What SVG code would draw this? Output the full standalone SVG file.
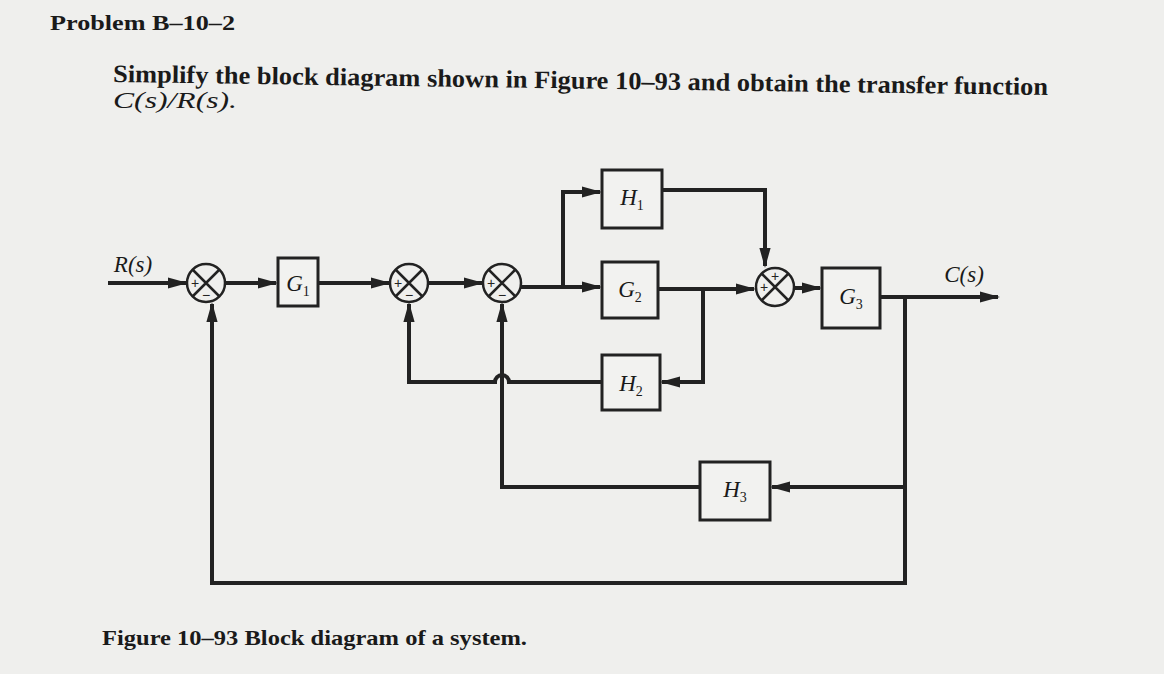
<svg xmlns="http://www.w3.org/2000/svg" width="1164" height="674" viewBox="0 0 1164 674">
<style>
.t{font-family:"Liberation Serif",serif;fill:#1a1a1a}
.b{fill:#f2f2f0;stroke:#222;stroke-width:3}
.s{fill:none;stroke:#222;stroke-width:2.5}
.w{fill:none;stroke:#222;stroke-width:4}
.l{font-family:"Liberation Serif",serif;font-style:italic;font-size:23px;fill:#1a1a1a;text-anchor:middle}
.n{font-style:normal;font-size:14px}
.p{font-family:"Liberation Sans",sans-serif;font-size:14px;fill:#222;text-anchor:middle}
</style>
<defs><marker id="a" markerWidth="5" markerHeight="4" refX="4.5" refY="2" orient="auto" markerUnits="strokeWidth"><path d="M0,0.6 L5,2 L0,3.4 Z" fill="#222"/></marker></defs>
<rect width="1164" height="674" fill="#efefed"/>
<text class="t" x="50" y="30" font-size="22" font-weight="bold" textLength="185" lengthAdjust="spacingAndGlyphs">Problem B–10–2</text>
<text class="t" x="113" y="82" font-size="25" font-weight="bold" textLength="935" lengthAdjust="spacingAndGlyphs" transform="rotate(0.8 113 82)">Simplify the block diagram shown in Figure 10–93 and obtain the transfer function</text>
<text class="t" x="113" y="108" font-size="24" font-style="italic" textLength="124" lengthAdjust="spacingAndGlyphs">C(s)/R(s).</text>
<text class="t" x="102" y="645" font-size="21" font-weight="bold" textLength="425" lengthAdjust="spacingAndGlyphs">Figure 10–93   Block diagram of a system.</text>
<text class="l" x="133" y="272">R(s)</text>
<text class="l" x="964" y="282">C(s)</text>
<g id="connectors">
<path class="w" d="M108,283 H186" marker-end="url(#a)"/>
<path class="w" d="M225,283 H276" marker-end="url(#a)"/>
<path class="w" d="M318,283 H389" marker-end="url(#a)"/>
<path class="w" d="M428,283 H482" marker-end="url(#a)"/>
<path class="w" d="M521,287 H600" marker-end="url(#a)"/>
<path class="w" d="M563,287 V192 H600" marker-end="url(#a)"/>
<path class="w" d="M662,190 H765 V266" marker-end="url(#a)"/>
<path class="w" d="M658,289 H754" marker-end="url(#a)"/>
<path class="w" d="M703,289 V382 H662" marker-end="url(#a)"/>
<path class="w" d="M794,288 H820" marker-end="url(#a)"/>
<path class="w" d="M880,297 H998" marker-end="url(#a)"/>
<path class="w" d="M905,297 V583 H212 V304" marker-end="url(#a)"/>
<path class="w" d="M905,487 H772" marker-end="url(#a)"/>
<path class="w" d="M700,487 H502 V304" marker-end="url(#a)"/>
<path class="w" d="M602,382 H509 A7,7 0 0 0 495,382 H409 V304" marker-end="url(#a)"/>
</g>
<g id="sum1"><circle class="s" cx="206" cy="283" r="19" fill="#efefed"/><path class="s" d="M192.5,269.5 L219.5,296.5 M219.5,269.5 L192.5,296.5"/><text class="p" x="195" y="288">+</text><text class="p" x="206" y="300">−</text></g>
<g id="sum2"><circle class="s" cx="409" cy="283" r="19" fill="#efefed"/><path class="s" d="M395.5,269.5 L422.5,296.5 M422.5,269.5 L395.5,296.5"/><text class="p" x="398" y="288">+</text><text class="p" x="409" y="300">−</text></g>
<g id="sum3"><circle class="s" cx="502" cy="283" r="19" fill="#efefed"/><path class="s" d="M488.5,269.5 L515.5,296.5 M515.5,269.5 L488.5,296.5"/><text class="p" x="491" y="288">+</text><text class="p" x="502" y="300">−</text></g>
<g id="sum4"><circle class="s" cx="775" cy="287" r="19" fill="#efefed"/><path class="s" d="M761.5,273.5 L788.5,300.5 M788.5,273.5 L761.5,300.5"/><text class="p" x="764" y="292">+</text><text class="p" x="775" y="281">+</text></g>
<g id="G1"><rect class="b" x="278" y="258" width="40" height="48"/><text class="l" x="298" y="291">G<tspan class="n" dy="5">1</tspan></text></g>
<g id="G2"><rect class="b" x="602" y="262" width="56" height="56"/><text class="l" x="630" y="297">G<tspan class="n" dy="5">2</tspan></text></g>
<g id="H1"><rect class="b" x="602" y="170" width="60" height="58"/><text class="l" x="632" y="205">H<tspan class="n" dy="5">1</tspan></text></g>
<g id="H2"><rect class="b" x="602" y="355" width="58" height="55"/><text class="l" x="631" y="391">H<tspan class="n" dy="5">2</tspan></text></g>
<g id="G3"><rect class="b" x="822" y="268" width="58" height="60"/><text class="l" x="851" y="304">G<tspan class="n" dy="5">3</tspan></text></g>
<g id="H3"><rect class="b" x="700" y="462" width="70" height="58"/><text class="l" x="735" y="497">H<tspan class="n" dy="5">3</tspan></text></g>
</svg>
